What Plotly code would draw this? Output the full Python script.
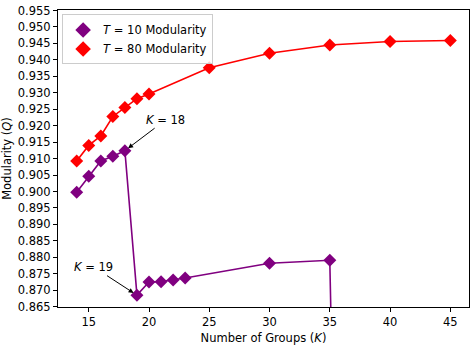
import plotly.graph_objects as go

k_t10 = [14, 15, 16, 17, 18, 19, 20, 21, 22, 23, 30, 35, 40]
q_t10 = [0.8998, 0.9046, 0.9093, 0.9107, 0.9124, 0.8685, 0.8725, 0.8726, 0.8731, 0.8737, 0.8782, 0.8791, 0.0]
k_t80 = [14, 15, 16, 17, 18, 19, 20, 25, 30, 35, 40, 45]
q_t80 = [0.9093, 0.9140, 0.9169, 0.9228, 0.9255, 0.9282, 0.9296, 0.9376, 0.9420, 0.9445, 0.9456, 0.9459]
x_ticks = [15, 20, 25, 30, 35, 40, 45]
y_ticks = [round(0.865 + 0.005 * i, 3) for i in range(19)]

PURPLE = "#800080"
RED = "#ff0000"
FONT = "DejaVu Sans"
FS = 11.5

fig = go.Figure()
fig.add_trace(go.Scatter(x=k_t10, y=q_t10, mode="lines+markers", showlegend=False,
                         line=dict(color=PURPLE, width=1.6),
                         marker=dict(symbol="diamond", size=10, color=PURPLE)))
fig.add_trace(go.Scatter(x=k_t80, y=q_t80, mode="lines+markers", showlegend=False,
                         line=dict(color=RED, width=1.6),
                         marker=dict(symbol="diamond", size=10, color=RED)))
# legend entries (markers only, like the reference)
fig.add_trace(go.Scatter(x=[None], y=[None], mode="markers", name="<i>T</i> = 10 Modularity",
                         marker=dict(symbol="diamond", size=10, color=PURPLE)))
fig.add_trace(go.Scatter(x=[None], y=[None], mode="markers", name="<i>T</i> = 80 Modularity",
                         marker=dict(symbol="diamond", size=10, color=RED)))

fig.add_annotation(x=18, y=q_t10[4], text="<i>K</i> = 18", showarrow=True,
                   ax=41, ay=-31, arrowhead=2, arrowsize=1, arrowwidth=1,
                   arrowcolor="black", standoff=4, font=dict(size=FS, color="black", family=FONT))
fig.add_annotation(x=19, y=q_t10[5], text="<i>K</i> = 19", showarrow=True,
                   ax=-43, ay=-28, arrowhead=2, arrowsize=1, arrowwidth=1,
                   arrowcolor="black", standoff=4, font=dict(size=FS, color="black", family=FONT))

axis_common = dict(showline=True, linecolor="black", linewidth=1, mirror=True,
                   ticks="outside", ticklen=4, tickcolor="black", showgrid=False,
                   zeroline=False, ticklabeloverflow="allow",
                   tickfont=dict(size=FS, color="black", family=FONT))

fig.update_layout(
    width=474, height=347,
    margin=dict(l=58, r=4, t=4, b=36),
    plot_bgcolor="white", paper_bgcolor="white",
    font=dict(family=FONT, size=FS, color="black"),
    xaxis=dict(range=[12.45, 46.55], tickvals=x_ticks,
               title=dict(text="Number of Groups (<i>K</i>)", standoff=6,
                          font=dict(size=FS, family=FONT)), **axis_common),
    yaxis=dict(range=[0.8649, 0.95515], tickvals=y_ticks, tickformat=".3f",
               title=dict(text="Modularity (<i>Q</i>)", standoff=4,
                          font=dict(size=FS, family=FONT)), **axis_common),
    legend=dict(x=0.01, y=0.985, xanchor="left", yanchor="top",
                bgcolor="rgba(255,255,255,0.8)", bordercolor="#cccccc", borderwidth=1,
                font=dict(size=FS, family=FONT), itemsizing="constant"),
)

fig.write_html("out.html")
